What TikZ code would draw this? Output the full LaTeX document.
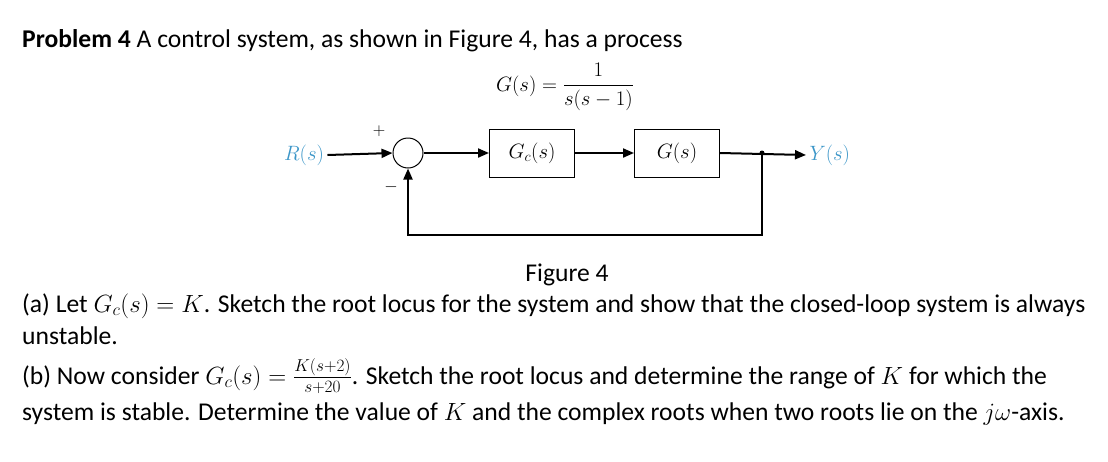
\documentclass[tikz,border=0pt]{standalone}
\usepackage{amsmath}
\usepackage{fontspec}
\setmainfont{Carlito}
\usetikzlibrary{arrows.meta}
\definecolor{sig}{RGB}{60,150,200}
\begin{document}
\begin{tikzpicture}[x=1pt,y=-1pt,
  blk/.style={draw,line width=1pt,minimum width=85pt,minimum height=48pt,font=\fontsize{21}{24}\selectfont},
  sig/.style={-{Triangle[length=11pt,width=9pt]},line width=2pt},
  txt/.style={anchor=base west,inner sep=0,font=\fontsize{25.6}{30}\selectfont},
  lbl/.style={text=sig,font=\fontsize{21}{24}\selectfont}]
\useasboundingbox (0,0) rectangle (1108,461);
\node[txt] (t1) at (22,47) {\textbf{Problem 4} A control system, as shown in Figure 4, has a process};
\node[inner sep=0,font=\fontsize{22}{26}\selectfont] (eq) at (565,87) {$G(s)=\dfrac{1}{s(s-1)}$};
\node[lbl] (R) at (304,155) {$R(s)$};
\node[draw,circle,line width=1pt,minimum size=30pt,inner sep=0] (sum) at (408,153) {};
\node[blk] (gc) at (532,153) {$G_c(s)$};
\node[blk] (g) at (677,153) {$G(s)$};
\coordinate (j) at (762,153);
\coordinate (b) at (762,235);
\coordinate (bl) at (408,235);
\node[lbl,anchor=west] (Y) at (806,155) {$Y(s)$};
\draw[sig] (R.east) -- (sum.west);
\draw[sig] (sum.east) -- (gc.west);
\draw[sig] (gc.east) -- (g.west);
\draw[sig] (g.east) -- (Y.west);
\fill (j) circle (2.5pt);
\draw[sig] (j) -- (b) -- (bl) -- (sum.south);
\node[font=\fontsize{17}{20}\selectfont] (plus) at (379,131) {$+$};
\node[font=\fontsize{17}{20}\selectfont] (minus) at (391,187) {$-$};
\node[inner sep=0,anchor=base,font=\fontsize{25.6}{30}\selectfont] (fig) at (567,281) {Figure 4};
\node[txt] (a1) at (22,312) {(a) Let $G_c(s)=K$. Sketch the root locus for the system and show that the closed-loop system is always};
\node[txt] (a2) at (22,344) {unstable.};
\node[txt] (b1) at (22,384) {(b) Now consider $G_c(s)=\frac{K(s+2)}{s+20}$. Sketch the root locus and determine the range of $K$ for which the};
\node[txt] (b2) at (22,420) {system is stable. Determine the value of $K$ and the complex roots when two roots lie on the $j\omega$-axis.};
\end{tikzpicture}
\end{document}
